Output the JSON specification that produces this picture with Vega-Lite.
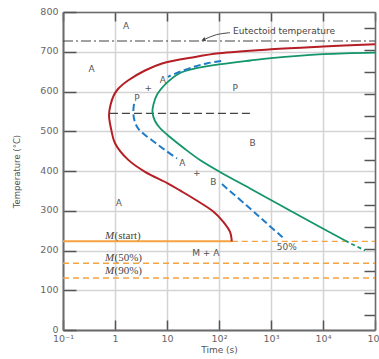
{
  "$schema": "https://vega.github.io/schema/vega-lite/v6.json",
  "width": 312,
  "height": 318,
  "autosize": {"type": "none"},
  "padding": {"left": 63, "top": 12, "right": 4, "bottom": 29},
  "background": "white",
  "config": {
    "view": {"stroke": null},
    "axis": {
      "labelFont": "DejaVu Sans",
      "labelFontSize": 9.5,
      "labelColor": "#666666",
      "titleFont": "DejaVu Sans",
      "titleFontWeight": "normal",
      "titleColor": "#555555",
      "domainColor": "#6b6b6b",
      "domainWidth": 2,
      "tickColor": "#555555",
      "tickWidth": 1.5,
      "gridColor": "#d4d4d4",
      "gridWidth": 1.5
    }
  },
  "datasets": {
    "curves": [
      {"k": "red", "o": 1, "t": 100000, "T": 719},
      {"k": "red", "o": 2, "t": 10000, "T": 713},
      {"k": "red", "o": 3, "t": 1000, "T": 706},
      {"k": "red", "o": 4, "t": 100, "T": 696},
      {"k": "red", "o": 5, "t": 34.5, "T": 686.8},
      {"k": "red", "o": 6, "t": 8.03, "T": 670.4},
      {"k": "red", "o": 7, "t": 3.78, "T": 652.8},
      {"k": "red", "o": 8, "t": 1.778, "T": 627.7},
      {"k": "red", "o": 9, "t": 1.142, "T": 606.3},
      {"k": "red", "o": 10, "t": 0.936, "T": 588.7},
      {"k": "red", "o": 11, "t": 0.82, "T": 566},
      {"k": "red", "o": 12, "t": 0.767, "T": 541},
      {"k": "red", "o": 13, "t": 0.85, "T": 503},
      {"k": "red", "o": 14, "t": 1.0, "T": 470},
      {"k": "red", "o": 15, "t": 1.8, "T": 428},
      {"k": "red", "o": 16, "t": 3.78, "T": 398},
      {"k": "red", "o": 17, "t": 10.3, "T": 369},
      {"k": "red", "o": 18, "t": 17.8, "T": 351},
      {"k": "red", "o": 19, "t": 36, "T": 327},
      {"k": "red", "o": 20, "t": 77.7, "T": 298},
      {"k": "red", "o": 21, "t": 121, "T": 272},
      {"k": "red", "o": 22, "t": 163, "T": 247},
      {"k": "red", "o": 23, "t": 174, "T": 230},
      {"k": "red", "o": 24, "t": 176, "T": 223},
      {"k": "green", "o": 1, "t": 100000, "T": 698},
      {"k": "green", "o": 2, "t": 10000, "T": 694},
      {"k": "green", "o": 3, "t": 1000, "T": 684},
      {"k": "green", "o": 4, "t": 400, "T": 678},
      {"k": "green", "o": 5, "t": 100, "T": 668},
      {"k": "green", "o": 6, "t": 35, "T": 658},
      {"k": "green", "o": 7, "t": 17.8, "T": 646.5},
      {"k": "green", "o": 8, "t": 10.5, "T": 625},
      {"k": "green", "o": 9, "t": 6.5, "T": 593},
      {"k": "green", "o": 10, "t": 5.5, "T": 568},
      {"k": "green", "o": 11, "t": 5.25, "T": 548},
      {"k": "green", "o": 12, "t": 5.88, "T": 525.8},
      {"k": "green", "o": 13, "t": 7.33, "T": 508.2},
      {"k": "green", "o": 14, "t": 11.4, "T": 485.5},
      {"k": "green", "o": 15, "t": 22.2, "T": 455.3},
      {"k": "green", "o": 16, "t": 43.1, "T": 427.7},
      {"k": "green", "o": 17, "t": 104.5, "T": 397.5},
      {"k": "green", "o": 18, "t": 395, "T": 356},
      {"k": "green", "o": 19, "t": 1490, "T": 314.5},
      {"k": "green", "o": 20, "t": 5620, "T": 273},
      {"k": "green", "o": 21, "t": 26500, "T": 225},
      {"k": "greentail", "o": 1, "t": 26500, "T": 225},
      {"k": "greentail", "o": 2, "t": 64000, "T": 200},
      {"k": "blue", "seg": 1, "o": 1, "t": 110, "T": 677},
      {"k": "blue", "seg": 1, "o": 2, "t": 60, "T": 671},
      {"k": "blue", "seg": 1, "o": 3, "t": 34.5, "T": 663},
      {"k": "blue", "seg": 1, "o": 4, "t": 17.8, "T": 650},
      {"k": "blue", "seg": 1, "o": 5, "t": 10.4, "T": 637},
      {"k": "blue", "seg": 2, "o": 1, "t": 2.32, "T": 569},
      {"k": "blue", "seg": 2, "o": 2, "t": 2.25, "T": 545},
      {"k": "blue", "seg": 2, "o": 3, "t": 2.42, "T": 523},
      {"k": "blue", "seg": 2, "o": 4, "t": 2.83, "T": 505.7},
      {"k": "blue", "seg": 2, "o": 5, "t": 3.78, "T": 490.6},
      {"k": "blue", "seg": 2, "o": 6, "t": 5.88, "T": 471.7},
      {"k": "blue", "seg": 2, "o": 7, "t": 9.15, "T": 452.8},
      {"k": "blue", "seg": 2, "o": 8, "t": 15.6, "T": 431.4},
      {"k": "blue", "seg": 3, "o": 1, "t": 114, "T": 367},
      {"k": "blue", "seg": 3, "o": 2, "t": 341, "T": 313},
      {"k": "blue", "seg": 3, "o": 3, "t": 767, "T": 272.2},
      {"k": "blue", "seg": 3, "o": 4, "t": 1490, "T": 239},
      {"k": "blue", "seg": 3, "o": 5, "t": 1860, "T": 228},
      {"k": "arrow", "o": 1, "t": 163, "T": 748},
      {"k": "arrow", "o": 2, "t": 90, "T": 743},
      {"k": "arrow", "o": 3, "t": 52, "T": 731}
    ],
    "hlines": [
      {"k": "eut", "o": 1, "t": 0.1, "T": 727},
      {"k": "eut", "o": 2, "t": 100000, "T": 727},
      {"k": "d545", "o": 1, "t": 0.8, "T": 545},
      {"k": "d545", "o": 2, "t": 395, "T": 545},
      {"k": "ms", "o": 1, "t": 0.1, "T": 223},
      {"k": "ms", "o": 2, "t": 176, "T": 223},
      {"k": "msd", "o": 1, "t": 176, "T": 223},
      {"k": "msd", "o": 2, "t": 100000, "T": 223},
      {"k": "m50", "o": 1, "t": 0.1, "T": 168},
      {"k": "m50", "o": 2, "t": 100000, "T": 168},
      {"k": "m90", "o": 1, "t": 0.1, "T": 131},
      {"k": "m90", "o": 2, "t": 100000, "T": 131}
    ],
    "labels": [
      {"s": "A", "t": 1.63, "T": 765},
      {"s": "A", "t": 0.356, "T": 657},
      {"s": "P", "t": 204, "T": 610},
      {"s": "B", "t": 444, "T": 470},
      {"s": "A", "t": 1.19, "T": 320},
      {"s": "P", "t": 2.65, "T": 584},
      {"s": "+", "t": 4.37, "T": 608},
      {"s": "A", "t": 8.27, "T": 629},
      {"s": "A", "t": 19.7, "T": 419},
      {"s": "+", "t": 37.2, "T": 394},
      {"s": "B", "t": 77.7, "T": 373},
      {"s": "M + A", "t": 55.7, "T": 194},
      {"s": "50%", "t": 2005, "T": 208}
    ],
    "eutlabel": [
      {"s": "Eutectoid temperature", "t": 186, "T": 751}
    ],
    "arrowhead": [
      {"t": 50, "T": 730}
    ],
    "mletter": [
      {"s": "M", "t": 0.642, "T": 237},
      {"s": "M", "t": 0.642, "T": 180},
      {"s": "M", "t": 0.642, "T": 149}
    ],
    "mrest": [
      {"s": "(start)", "t": 0.978, "T": 237},
      {"s": "(50%)", "t": 0.978, "T": 180},
      {"s": "(90%)", "t": 0.978, "T": 149}
    ]
  },
  "layer": [
    {
      "encoding": {
        "x": {
          "field": "t",
          "type": "quantitative",
          "scale": {"type": "log", "domain": [0.1, 100000], "nice": false},
          "axis": {
            "orient": "bottom",
            "values": [0.1, 1, 10, 100, 1000, 10000, 100000],
            "labelExpr": "datum.value < 0.5 ? '10⁻¹' : datum.value < 5 ? '1' : datum.value < 50 ? '10' : datum.value < 500 ? '10²' : datum.value < 5000 ? '10³' : datum.value < 50000 ? '10⁴' : '10⁵'",
            "tickSize": -10,
            "labelPadding": 13,
            "labelFlush": false,
            "labelOverlap": false,
            "grid": true,
            "title": "Time (s)",
            "titleFontSize": 9,
            "titleY": 19,
            "titleBaseline": "middle"
          }
        },
        "y": {
          "field": "T",
          "type": "quantitative",
          "scale": {"domain": [0, 800], "nice": false, "zero": false},
          "axis": {
            "orient": "left",
            "values": [0, 100, 200, 300, 400, 500, 600, 700, 800],
            "tickSize": -13,
            "labelPadding": 18,
            "labelOffset": -1,
            "grid": true,
            "title": "Temperature (°C)",
            "titleFontSize": 8.5,
            "titleX": -47,
            "titleY": 159,
            "titleAlign": "center",
            "titleBaseline": "middle"
          }
        }
      },
      "layer": [
        {
          "data": {"name": "hlines"},
          "transform": [{"filter": "datum.k == 'eut'"}],
          "mark": {"type": "line", "color": "#444444", "strokeWidth": 1.2, "strokeDash": [10, 3, 2, 3]},
          "encoding": {"order": {"field": "o", "type": "quantitative"}}
        },
        {
          "data": {"name": "hlines"},
          "transform": [{"filter": "datum.k == 'd545'"}],
          "mark": {"type": "line", "color": "#444444", "strokeWidth": 1.2, "strokeDash": [8, 4]},
          "encoding": {"order": {"field": "o", "type": "quantitative"}}
        },
        {
          "data": {"name": "hlines"},
          "transform": [{"filter": "datum.k == 'm50' || datum.k == 'm90' || datum.k == 'msd'"}],
          "mark": {"type": "line", "color": "#F4A340", "strokeWidth": 1.4, "strokeDash": [6, 4]},
          "encoding": {"detail": {"field": "k"}, "order": {"field": "o", "type": "quantitative"}}
        },
        {
          "data": {"name": "hlines"},
          "transform": [{"filter": "datum.k == 'ms'"}],
          "mark": {"type": "line", "color": "#F4A340", "strokeWidth": 2},
          "encoding": {"order": {"field": "o", "type": "quantitative"}}
        },
        {
          "data": {"name": "curves"},
          "transform": [{"filter": "datum.k == 'green'"}],
          "mark": {"type": "line", "color": "#13956C", "strokeWidth": 1.8, "interpolate": "catmull-rom"},
          "encoding": {"order": {"field": "o", "type": "quantitative"}}
        },
        {
          "data": {"name": "curves"},
          "transform": [{"filter": "datum.k == 'greentail'"}],
          "mark": {"type": "line", "color": "#13956C", "strokeWidth": 1.8, "strokeDash": [4, 3]},
          "encoding": {"order": {"field": "o", "type": "quantitative"}}
        },
        {
          "data": {"name": "curves"},
          "transform": [{"filter": "datum.k == 'blue'"}],
          "mark": {"type": "line", "color": "#1F7BC8", "strokeWidth": 2, "strokeDash": [7, 3.5], "interpolate": "catmull-rom"},
          "encoding": {"detail": {"field": "seg"}, "order": {"field": "o", "type": "quantitative"}}
        },
        {
          "data": {"name": "curves"},
          "transform": [{"filter": "datum.k == 'red'"}],
          "mark": {"type": "line", "color": "#B41E24", "strokeWidth": 2, "interpolate": "catmull-rom"},
          "encoding": {"order": {"field": "o", "type": "quantitative"}}
        },
        {
          "data": {"name": "curves"},
          "transform": [{"filter": "datum.k == 'arrow'"}],
          "mark": {"type": "line", "color": "#444444", "strokeWidth": 1, "interpolate": "catmull-rom"},
          "encoding": {"order": {"field": "o", "type": "quantitative"}}
        },
        {
          "data": {"name": "arrowhead"},
          "mark": {"type": "point", "shape": "triangle-left", "filled": true, "color": "#444444", "size": 22, "opacity": 1, "angle": -20}
        },
        {
          "data": {"name": "labels"},
          "mark": {"type": "text", "font": "DejaVu Sans", "fontSize": 9, "color": "#555555", "align": "center", "baseline": "middle"},
          "encoding": {"text": {"field": "s"}}
        },
        {
          "data": {"name": "eutlabel"},
          "mark": {"type": "text", "font": "DejaVu Sans", "fontSize": 9, "color": "#444444", "align": "left", "baseline": "middle"},
          "encoding": {"text": {"field": "s"}}
        },
        {
          "data": {"name": "mletter"},
          "mark": {"type": "text", "font": "Liberation Serif", "fontStyle": "italic", "fontSize": 11, "color": "#444444", "align": "left", "baseline": "middle"},
          "encoding": {"text": {"field": "s"}}
        },
        {
          "data": {"name": "mrest"},
          "mark": {"type": "text", "font": "Liberation Serif", "fontSize": 11, "color": "#444444", "align": "left", "baseline": "middle"},
          "encoding": {"text": {"field": "s"}}
        }
      ]
    },
    {
      "data": {"values": [{"t": 0.1, "F": 32}, {"t": 100000, "F": 1472}]},
      "mark": {"type": "point", "opacity": 0},
      "encoding": {
        "x": {
          "field": "t",
          "type": "quantitative",
          "scale": {"type": "log", "domain": [0.1, 100000], "nice": false},
          "axis": {
            "orient": "top",
            "values": [0.1, 1, 10, 100, 1000, 10000, 100000],
            "labels": false,
            "tickSize": -9,
            "grid": false,
            "title": null,
            "domainWidth": 1.5
          }
        },
        "y": {
          "field": "F",
          "type": "quantitative",
          "scale": {"domain": [32, 1472], "nice": false, "zero": false},
          "axis": {
            "orient": "right",
            "values": [100, 200, 300, 400, 500, 600, 700, 800, 900, 1000, 1100, 1200, 1300, 1400],
            "labels": false,
            "tickSize": -11,
            "grid": false,
            "title": null,
            "domainWidth": 1.5
          }
        }
      }
    }
  ],
  "resolve": {"scale": {"y": "independent"}, "axis": {"x": "independent", "y": "independent"}}
}
